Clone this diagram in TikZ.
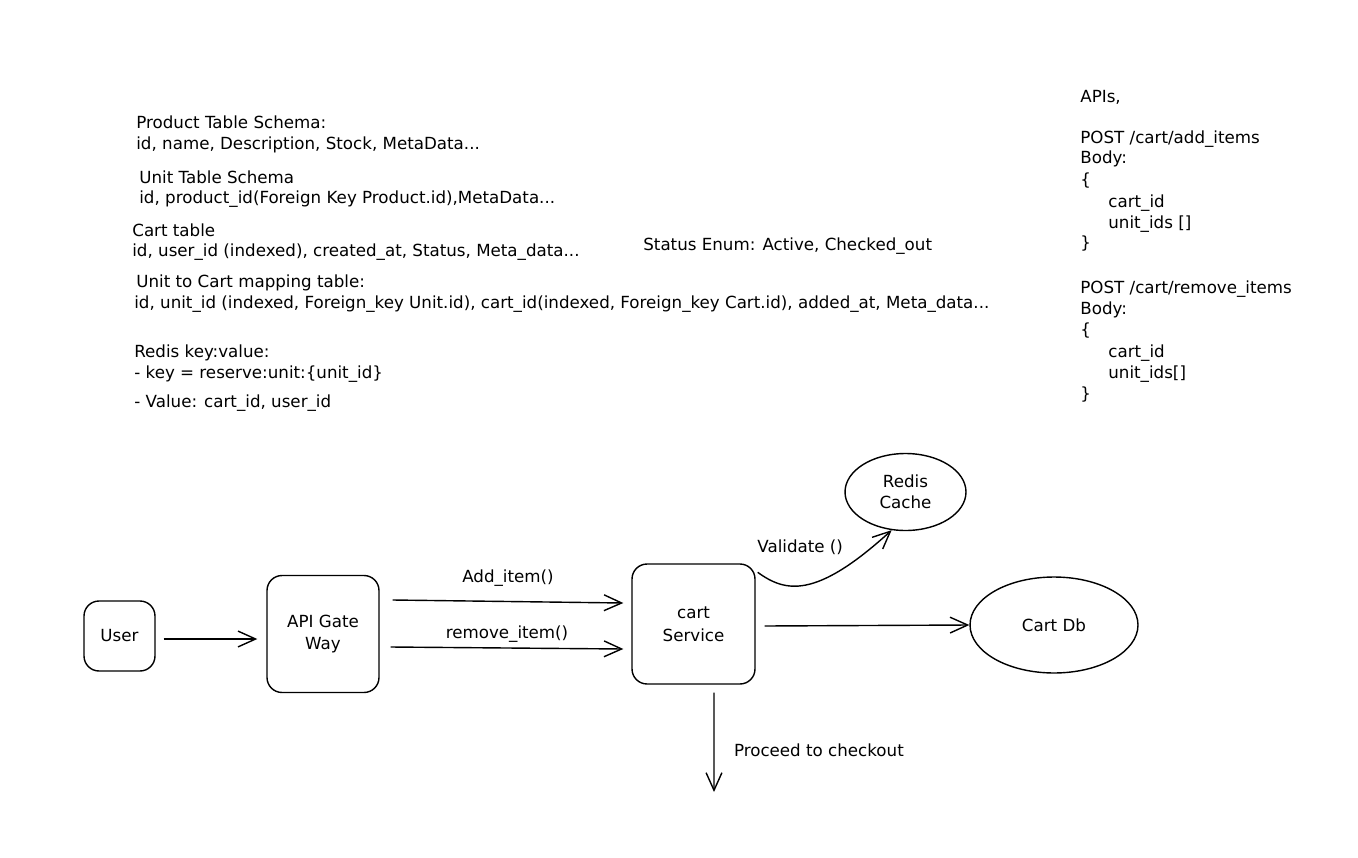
\documentclass[tikz,border=0pt]{standalone}
\usepackage{fontspec}
\setmainfont{DejaVu Sans}
\usetikzlibrary{arrows.meta,shapes.geometric,calc}
\begin{document}
\begin{tikzpicture}[x=0.02cm,y=-0.02cm]
\tikzstyle{txt}=[anchor=west,inner sep=0pt,font=\fontsize{9.5}{12}\selectfont]
\tikzstyle{bx}=[draw=black,rounded corners=0.3cm,line width=0.8pt,align=center,font=\fontsize{9.5}{13}\selectfont]
\tikzstyle{db}=[draw=black,ellipse,line width=0.8pt,inner sep=0pt,align=center,font=\fontsize{9.5}{12}\selectfont]
\tikzstyle{ar}=[line width=0.8pt,-{Straight Barb[length=10pt,width=9pt]}]
\tikzstyle{lb}=[inner sep=0pt,font=\fontsize{9.5}{12}\selectfont]
\useasboundingbox (0,0) rectangle (1358,858);
% schema notes
\node [txt] (p1) at (136,122) {Product Table Schema:};
\node [txt] (p2) at (136,145) {id, name, Description, Stock, MetaData...};
\node [txt] (u1) at (139,177) {Unit Table Schema};
\node [txt] (u2) at (139,199) {id, product\_id(Foreign Key Product.id),MetaData...};
\node [txt] (c1) at (132,230) {Cart table};
\node [txt] (c2) at (132,252) {id, user\_id (indexed), created\_at, Status, Meta\_data...};
\node [txt] (st) at (643,246) {Status Enum: Active, Checked\_out};
\node [txt] (m1) at (136,283) {Unit to Cart mapping table:};
\node [txt] (m2) at (134,304) {id, unit\_id (indexed, Foreign\_key Unit.id), cart\_id(indexed, Foreign\_key Cart.id), added\_at, Meta\_data...};
\node [txt] (r1) at (134,353) {Redis key:value:};
\node [txt] (r2) at (134,374) {- key = reserve:unit:\{unit\_id\}};
\node [txt] (r3) at (134,403) {- Value: cart\_id, user\_id};
% api notes
\node [txt] (a0) at (1080,97) {APIs,};
\node [txt] (a1) at (1080,139) {POST /cart/add\_items};
\node [txt] (a2) at (1080,159) {Body:};
\node [txt] (a3) at (1080,181) {\{};
\node [txt] (a4) at (1108,203) {cart\_id};
\node [txt] (a5) at (1108,224) {unit\_ids []};
\node [txt] (a6) at (1080,244) {\}};
\node [txt] (b1) at (1080,289) {POST /cart/remove\_items};
\node [txt] (b2) at (1080,310) {Body:};
\node [txt] (b3) at (1080,331) {\{};
\node [txt] (b4) at (1108,353) {cart\_id};
\node [txt] (b5) at (1108,374) {unit\_ids[]};
\node [txt] (b6) at (1080,395) {\}};
% flow
\node [bx,minimum width=1.42cm,minimum height=1.40cm] (user) at (119.5,636) {User};
\node [bx,minimum width=2.24cm,minimum height=2.34cm] (api) at (323,634) {API Gate\\Way};
\node [bx,minimum width=2.46cm,minimum height=2.40cm] (cart) at (693.5,624) {cart\\Service};
\node [db,minimum width=2.42cm,minimum height=1.54cm] (redis) at (905.5,492) {Redis\\Cache};
\node [db,minimum width=3.36cm,minimum height=1.92cm] (cdb) at (1054,625) {Cart Db};
\coordinate (chk) at (714,792);
\draw [ar] ($(user.east)+(8,3)$) -- ($(api.west)+(-9,5)$);
\draw [ar] ($(api.east)+(13,-34)$) -- node [lb,above=8pt] {Add\_item()} ($(cart.west)+(-8,-21)$);
\draw [ar] ($(api.east)+(11,13)$) -- node [lb,above=3pt] {remove\_item()} ($(cart.west)+(-8,25)$);
\draw [ar] ($(cart.east)+(9,2)$) -- (cdb.west);
\draw [ar] ($(cart.north east)+(2,9)$) .. controls (785,592) and (815,600) .. node [lb,pos=0.45,above=17pt] {Validate ()} (redis.250);
\draw [ar] ($(cart.south)+(20.5,8)$) -- node [lb,pos=0.58,right=11pt] {Proceed to checkout} (chk);
\end{tikzpicture}
\end{document}
